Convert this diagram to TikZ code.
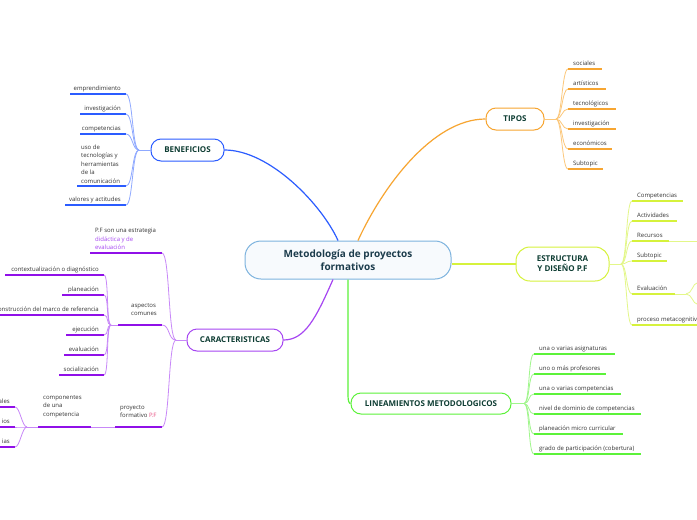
\documentclass[tikz,border=0pt]{standalone}
\usepackage{fontspec}
\setmainfont{Open Sans}
\definecolor{cblue}{HTML}{2B5CFF}
\definecolor{cbluel}{HTML}{8FA9FF}
\definecolor{corange}{HTML}{F7A531}
\definecolor{corangel}{HTML}{FCC77A}
\definecolor{cyel}{HTML}{D6F23C}
\definecolor{cyell}{HTML}{E3F788}
\definecolor{cgreen}{HTML}{5CF23A}
\definecolor{cgreenl}{HTML}{A0F68C}
\definecolor{cpurp}{HTML}{A646F2}
\definecolor{cpurpd}{HTML}{9010E8}
\definecolor{cpurpl}{HTML}{C888F8}
\definecolor{ccen}{HTML}{7DB3DE}
\definecolor{ttxt}{HTML}{0E3D33}
\definecolor{ctitle}{HTML}{1C3C4C}
\definecolor{cpink}{HTML}{E84A7F}
\definecolor{cleaf}{HTML}{333333}
\tikzset{
  topic/.style={draw, line width=1pt, rounded corners=10pt, fill=white,
    font=\bfseries\fontsize{8}{10}\selectfont, text=ttxt, align=center, inner sep=0pt},
  leaf/.style={font=\fontsize{6}{8.5}\selectfont, text=cleaf, inner sep=0pt},
  ul/.style={line width=1.4pt},
  br/.style={line width=0.8pt},
  mainc/.style={line width=1.2pt}
}
\newcommand\leafL[6]{%
  \coordinate (#1l) at (#2,#4); \coordinate (#1r) at (#3,#4);
  \node[leaf,anchor=base east] (#1) at ({#3-5},{#4-4}) {#6};
  \draw[ul,#5] (#1l) -- (#1r);}
\newcommand\leafR[6]{%
  \coordinate (#1l) at (#2,#4); \coordinate (#1r) at (#3,#4);
  \node[leaf,anchor=base west] (#1) at ({#2+5},{#4-4}) {#6};
  \draw[ul,#5] (#1l) -- (#1r);}
\begin{document}
\begin{tikzpicture}[x=1pt,y=-1pt]
\useasboundingbox (0,0) rectangle (697,520);
\clip (0,0) rectangle (697,520);
\fill[white] (0,0) rectangle (697,520);

% central node
\node[draw=ccen, line width=1pt, fill=ccen!6, rounded corners=16pt,
  minimum width=206pt, minimum height=38pt, align=center, inner sep=0pt,
  font=\bfseries\fontsize{10}{13}\selectfont, text=ctitle] (cen) at (348,260)
  {Metodología de proyectos\\formativos};

% topics
\node[topic, draw=cblue, minimum width=73pt, minimum height=22pt] (ben) at (187.5,150) {BENEFICIOS};
\node[topic, draw=corange, minimum width=58pt, minimum height=22pt] (tip) at (515,119) {TIPOS};
\node[topic, draw=cyel, rounded corners=14pt, minimum width=93pt, minimum height=34pt] (est) at (562.5,264) {ESTRUCTURA\\Y DISEÑO P.F};
\node[topic, draw=cgreen, minimum width=160pt, minimum height=21pt] (lin) at (431,403.5) {LINEAMIENTOS METODOLOGICOS};
\node[topic, draw=cpurp, minimum width=96pt, minimum height=22pt] (car) at (235,340) {CARACTERISTICAS};

% main connectors
\draw[mainc,cblue] ([xshift=-10pt]cen.north) .. controls (322,205) and (270,150) .. (ben.east);
\draw[mainc,corange] ([xshift=10pt]cen.north) .. controls (382,188) and (432,119) .. (tip.west);
\draw[mainc,cyel] (cen.east |- est.west) -- (est.west);
\draw[mainc,cgreen] (cen.south) -- (348,395) .. controls (348,401) and (349,403.5) .. (lin.west);
\draw[mainc,cpurp] ([xshift=-15pt]cen.south) .. controls (316,318) and (305,340) .. (car.east);

% BENEFICIOS
\leafL{b1}{70}{126}{94}{cblue}{emprendimiento}
\leafL{b2}{80}{126}{114}{cblue}{investigación}
\leafL{b3}{80}{126}{134}{cblue}{competencias}
\coordinate (b4l) at (77,186); \coordinate (b4r) at (126,186);
\node[leaf,anchor=south west,align=left] (b4) at (81,183.5) {uso de\\tecnologías y\\herramientas\\de la\\comunicación};
\draw[ul,cblue] (b4l) -- (b4r);
\leafL{b5}{65}{126}{205}{cblue}{valores y actitudes}
\coordinate (bh) at (139,150);
\draw[br,cbluel] (ben.west) -- (bh);
\foreach \c in {b1r,b2r,b3r,b4r,b5r}
  \draw[br,cbluel] (bh) .. controls +(-7,0) and +(7,0) .. (\c);

% TIPOS
\leafR{t1}{568}{602}{69}{corange}{sociales}
\leafR{t2}{568}{606}{89}{corange}{artísticos}
\leafR{t3}{568}{616}{109}{corange}{tecnológicos}
\leafR{t4}{568}{616}{129}{corange}{investigación}
\leafR{t5}{568}{612}{149}{corange}{económicos}
\leafR{t6}{568}{603}{169}{corange}{Subtopic}
\coordinate (th) at (556,119);
\draw[br,corangel] (tip.east) -- (th);
\foreach \c in {t1l,t2l,t3l,t4l,t5l,t6l}
  \draw[br,corangel] (th) .. controls +(6,0) and +(-6,0) .. (\c);

% ESTRUCTURA
\leafR{e1}{632}{683}{201}{cyel}{Competencias}
\leafR{e2}{632}{677}{221}{cyel}{Actividades}
\leafR{e3}{632}{669}{241}{cyel}{Recursos}
\leafR{e4}{632}{667}{261}{cyel}{Subtopic}
\leafR{e5}{632}{675}{294}{cyel}{Evaluación}
\leafR{e6}{632}{697}{325}{cyel}{proceso metacognitivo}
\coordinate (eh) at (621,264);
\draw[br,cyell] (est.east) -- (eh);
\foreach \c in {e1l,e2l,e3l,e4l,e5l,e6l}
  \draw[br,cyell] (eh) .. controls +(6,0) and +(-6,0) .. (\c);
\coordinate (e3x) at (697,241);
\draw[br,cyell] (e3r) -- (e3x);
\coordinate (e5h) at (686,294);
\coordinate (e5a) at (697,283);
\coordinate (e5b) at (697,304);
\draw[br,cyell] (e5r) -- (e5h);
\draw[br,cyell] (e5h) .. controls +(6,0) and +(-4,0) .. (e5a);
\draw[br,cyell] (e5h) .. controls +(6,0) and +(-4,0) .. (e5b);

% LINEAMIENTOS
\leafR{l1}{534}{615}{354}{cgreen}{una o varias asignaturas}
\leafR{l2}{534}{606}{374}{cgreen}{uno o más profesores}
\leafR{l3}{534}{621}{394}{cgreen}{una o varias competencias}
\leafR{l4}{534}{641}{414}{cgreen}{nivel de dominio de competencias}
\leafR{l5}{534}{623}{434}{cgreen}{planeación micro curricular}
\leafR{l6}{534}{641}{454}{cgreen}{grado de participación (cobertura)}
\coordinate (lh) at (524,403.5);
\draw[br,cgreenl] (lin.east) -- (lh);
\foreach \c in {l1l,l2l,l3l,l4l,l5l,l6l}
  \draw[br,cgreenl] (lh) .. controls +(6,0) and +(-6,0) .. (\c);

% CARACTERISTICAS
\coordinate (c1l) at (90,253); \coordinate (c1r) at (162,253);
\node[leaf,anchor=south west,align=left] (c1) at (95,250) {P.F son una estrategia\\\textcolor{cpurp}{didáctica y de}\\\textcolor{cpurp}{evaluación}};
\draw[ul,cpurpd] (c1l) -- (c1r);
\coordinate (c2l) at (118,325); \coordinate (c2r) at (162,325);
\node[leaf,anchor=south west,align=left] (c2) at (131,316) {aspectos\\comunes};
\draw[ul,cpurpd] (c2l) -- (c2r);
\coordinate (c3l) at (115,427); \coordinate (c3r) at (162,427);
\node[leaf,anchor=south west,align=left] (c3) at (120,418) {proyecto\\formativo \textcolor{cpink}{P.F}};
\draw[ul,cpurpd] (c3l) -- (c3r);
\coordinate (ch) at (176,340);
\draw[br,cpurpl] (car.west) -- (ch);
\foreach \c in {c1r,c2r,c3r}
  \draw[br,cpurpl] (ch) .. controls +(-8,0) and +(8,0) .. (\c);

% aspectos comunes
\leafL{a1}{5}{104}{275}{cpurpd}{contextualización o diagnóstico}
\leafL{a2}{62}{104}{295}{cpurpd}{planeación}
\leafL{a3}{0}{104}{315}{cpurpd}{construcción del marco de referencia}
\leafL{a4}{66}{104}{335}{cpurpd}{ejecución}
\leafL{a5}{64}{104}{355}{cpurpd}{evaluación}
\leafL{a6}{59}{104}{375}{cpurpd}{socialización}
\coordinate (ah) at (111,325);
\draw[br,cpurpl] (c2l) -- (ah);
\foreach \c in {a1r,a2r,a3r,a4r,a5r,a6r}
  \draw[br,cpurpl] (ah) .. controls +(-5,0) and +(5,0) .. (\c);

% componentes de una competencia
\coordinate (k1l) at (38,427); \coordinate (k1r) at (91,427);
\node[leaf,anchor=south west,align=left] (k1) at (43,418) {componentes\\de una\\competencia};
\draw[ul,cpurpd] (k1l) -- (k1r);
\draw[br,cpurpl] (c3l) -- (k1r);
\leafL{p1}{0}{15}{407}{cpurpd}{ales}
\leafL{p2}{0}{15}{427}{cpurpd}{ios}
\leafL{p3}{0}{15}{447}{cpurpd}{ias}
\coordinate (ph) at (27,427);
\draw[br,cpurpl] (k1l) -- (ph);
\foreach \c in {p1r,p2r,p3r}
  \draw[br,cpurpl] (ph) .. controls +(-5,0) and +(5,0) .. (\c);
\end{tikzpicture}
\end{document}
